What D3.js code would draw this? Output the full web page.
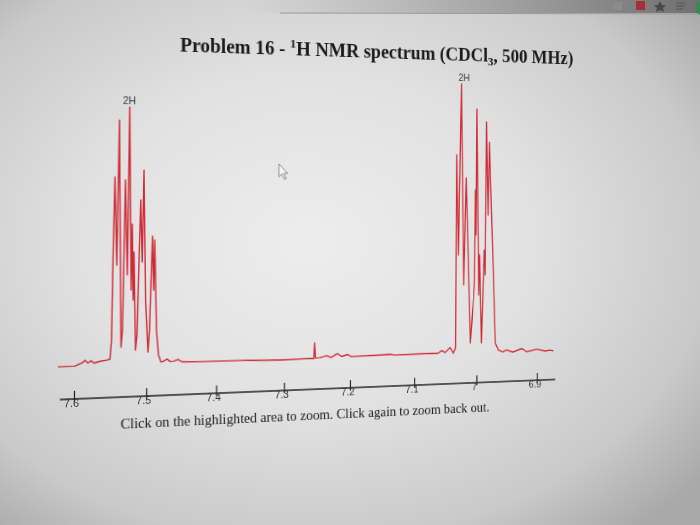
<!DOCTYPE html>
<html>
<head>
<meta charset="utf-8">
<script src="https://cdn.jsdelivr.net/npm/d3@7/dist/d3.min.js"></script>
<style>
  html, body { margin: 0; padding: 0; width: 700px; height: 525px; overflow: hidden; background: #d6d6d6; }
  #bg { position: absolute; left: 0; top: 0; }
  #chart { position: absolute; left: 0; top: 0; transform-origin: 0 0; }
</style>
</head>
<body>
<svg id="bg" width="700" height="525"></svg>
<svg id="chart" width="700" height="525"></svg>
<script>
// trace of the spectrum: chemical shift (ppm) and relative intensity (tallest line = 100)
var shifts = [
    7.6218, 7.5986, 7.5891, 7.5849, 7.5808, 7.5767, 7.5726, 7.5643, 7.5546, 7.5505,
    7.5484, 7.5463, 7.5435, 7.5410, 7.5373, 7.5352,
    7.5331, 7.5289, 7.5264, 7.5229, 7.5210, 7.5194, 7.5182, 7.5170, 7.5149,
    7.5128, 7.5075, 7.5055, 7.5030, 7.5008, 7.4974,
    7.4953, 7.4910, 7.4893, 7.4878, 7.4854, 7.4826, 7.4790,
    7.4748, 7.4705, 7.4662, 7.4605, 7.4548, 7.4491, 7.4233, 7.3652, 7.3061, 7.2580,
    7.2553, 7.2539, 7.2526, 7.2459, 7.2357, 7.2291, 7.2195, 7.2128, 7.2036, 7.1985,
    7.1645, 7.1380, 7.1302, 7.0954, 7.0620, 7.0560, 7.0508, 7.0427, 7.0375,
    7.0339, 7.0320, 7.0291, 7.0243, 7.0206, 7.0166, 7.0098,
    7.0031, 7.0017, 7.0007, 6.9992, 6.9963, 6.9947, 6.9919,
    6.9874, 6.9857, 6.9835, 6.9810, 6.9787, 6.9691, 6.9642, 6.9568,
    6.9507, 6.9404, 6.9256, 6.9172, 6.9005, 6.8866, 6.8782, 6.8723
];
var intensities = [
    0.2, 0.3, 1.3, 2.1, 1.2, 1.9, 1.1, 1.6, 2.0, 2.3,
    8.8, 36.3, 64.8, 34.5, 84.4, 6.3,
    12.2, 63.8, 31.1, 88.9, 25.9, 48.6, 22.4, 38.9, 5.1,
    10.3, 56.9, 35.5, 67.2, 22.3, 4.3,
    11.9, 44.4, 25.7, 43.0, 11.9, 3.2, 0.7,
    1.0, 1.7, 0.8, 0.9, 1.4, 0.5, 0.4, 0.3, 0.0, 0.2,
    0.1, 5.7, 0.3, 0.4, 1.0, 0.3, 1.6, 0.5, 1.2, 0.4,
    0.5, 0.7, 0.4, 0.5, 0.5, 1.5, 0.7, 2.5, 0.4,
    2.2, 73.7, 36.6, 100, 25.5, 65.2, 3.9,
    27.3, 60.7, 44.0, 90.8, 21.7, 36.6, 3.8,
    38.4, 29.1, 86.1, 51.4, 78.6, 3.6, 1.0, 0.2,
    0.9, 0.0, 1.2, 0.0, 0.8, 0.0, 0.3, 0.0
];

var tickValues = [7.6, 7.5, 7.4, 7.3, 7.2, 7.1, 7.0, 6.9];
var tickLabels = ["7.6", "7.5", "7.4", "7.3", "7.2", "7.1", "7", "6.9"];

var integralShifts = [7.5233, 7.0198];
var integralLabels = ["2H", "2H"];

var titleText = ["Problem 16 - ", "1", "H NMR spectrum (CDCl", "3", ", 500 MHz)"];
var captionText = "Click on the highlighted area to zoom. Click again to zoom back out.";

// ---- photographed screen background ----
var bg = d3.select("#bg");
var bdefs = bg.append("defs");
var rg = bdefs.append("radialGradient").attr("id", "screen")
    .attr("cx", "44%").attr("cy", "46%").attr("r", "72%");
rg.append("stop").attr("offset", "0").attr("stop-color", "#ededed");
rg.append("stop").attr("offset", "0.45").attr("stop-color", "#e1e1e1");
rg.append("stop").attr("offset", "0.8").attr("stop-color", "#c9c9c9");
rg.append("stop").attr("offset", "1").attr("stop-color", "#a9a9a9");
var tg = bdefs.append("linearGradient").attr("id", "topband");
tg.append("stop").attr("offset", "0.35").attr("stop-color", "#8a8a8a").attr("stop-opacity", 0);
tg.append("stop").attr("offset", "1").attr("stop-color", "#6a6a6a").attr("stop-opacity", 0.9);

bg.append("rect").attr("width", 700).attr("height", 525).attr("fill", "url(#screen)");
bg.append("rect").attr("width", 700).attr("height", 13).attr("fill", "url(#topband)");
bg.append("line").attr("x1", 280).attr("x2", 700).attr("y1", 13).attr("y2", 14)
    .attr("stroke", "#9a9a9a").attr("stroke-width", 1);
// browser toolbar icons in the corner
bg.append("rect").attr("x", 614).attr("y", 2).attr("width", 8).attr("height", 8).attr("fill", "#8c8c8c");
bg.append("rect").attr("x", 636).attr("y", 1).attr("width", 9).attr("height", 9).attr("fill", "#a33038");
bg.append("path").attr("d", "M660,1 L662,5 L666,5 L663,8 L664,12 L660,10 L656,12 L657,8 L654,5 L658,5 Z").attr("fill", "#4a4a4a");
bg.append("path").attr("d", "M676,3 H685 M676,6 H685 M676,9 H683").attr("stroke", "#555").attr("stroke-width", 1.2);
bg.append("circle").attr("cx", 702).attr("cy", 8).attr("r", 7).attr("fill", "#3d8a4a");

// ---- chart, drawn flat and then put in the photo's perspective ----
var svg = d3.select("#chart");

var x = d3.scaleLinear().domain([7.62, 6.87]).range([59.35, 608.65]);
var y = d3.scaleLinear().domain([0, 100]).range([367, 73.3]);
var axisY = 398.4;

var xAxis = d3.axisBottom(x)
    .tickValues(tickValues)
    .tickFormat(function(d, i) { return tickLabels[i]; })
    .tickSizeInner(0)
    .tickSizeOuter(0)
    .tickPadding(0.5);

var gx = svg.append("g")
    .attr("transform", "translate(0," + axisY + ")")
    .call(xAxis);
gx.select(".domain").attr("stroke", "#222").attr("stroke-width", 1.5);
gx.selectAll(".tick line").attr("y1", -7.5).attr("y2", 3.5).attr("stroke", "#222").attr("stroke-width", 1.2);
gx.selectAll(".tick text")
    .attr("x", -3)
    .attr("fill", "#333")
    .style("font-family", "'Liberation Sans', Arial, sans-serif")
    .style("font-size", "11px");

var line = d3.line()
    .x(function(d) { return x(d[0]); })
    .y(function(d) { return y(d[1]); });

svg.append("path")
    .datum(d3.zip(shifts, intensities))
    .attr("d", line)
    .attr("fill", "none")
    .attr("stroke", "#cf2a35")
    .attr("stroke-width", 1.4)
    .attr("stroke-linejoin", "round");

// integration labels sit just above the tallest line of each multiplet
integralShifts.forEach(function(s, idx) {
    var top = d3.max(shifts.map(function(v, j) {
        return Math.abs(v - s) < 0.015 ? intensities[j] : 0;
    }));
    svg.append("text")
        .attr("x", x(s))
        .attr("y", y(top) - 3)
        .attr("text-anchor", "middle")
        .attr("fill", "#3a3a3a")
        .style("font-family", "'Liberation Sans', Arial, sans-serif")
        .style("font-size", "10.5px")
        .text(integralLabels[idx]);
});

var title = svg.append("text")
    .attr("x", 182.4)
    .attr("y", 48.5)
    .attr("fill", "#1a1a1a")
    .style("font-family", "'Liberation Serif', 'Times New Roman', serif")
    .style("font-weight", "bold")
    .style("font-size", "20.6px");
title.append("tspan").text(titleText[0]);
title.append("tspan").attr("dy", -8).style("font-size", "13.4px").text(titleText[1]);
title.append("tspan").attr("dy", 8).text(titleText[2]);
title.append("tspan").attr("dy", 4).style("font-size", "13.4px").text(titleText[3]);
title.append("tspan").attr("dy", -4).text(titleText[4]);

svg.append("text")
    .attr("x", 325)
    .attr("y", 430.7)
    .attr("text-anchor", "middle")
    .attr("fill", "#1a1a1a")
    .style("font-family", "'Liberation Serif', 'Times New Roman', serif")
    .style("font-size", "14.8px")
    .text(captionText);

// mouse pointer left on the screen
svg.append("path")
    .attr("transform", "translate(288,162) scale(0.85)")
    .attr("d", "M0,0 L0,16 L4,12.5 L7,19 L9.5,18 L6.5,11.5 L11.5,11.5 Z")
    .attr("fill", "#f4f4f4")
    .attr("stroke", "#777")
    .attr("stroke-width", 1);

// perspective of the photo: vertical lines stay vertical, horizontals meet far to the right
var X0 = 74, VPX = 4854, HZ = 205;
var k = 1 / (VPX - X0);
var m = [1 + X0 * k, HZ * k, 0, k,
         0, 1, 0, 0,
         0, 0, 1, 0,
         -X0 * X0 * k, -HZ * k * X0, 0, 1 - k * X0];
document.getElementById("chart").style.transform = "matrix3d(" + m.join(",") + ")";
</script>
</body>
</html>
